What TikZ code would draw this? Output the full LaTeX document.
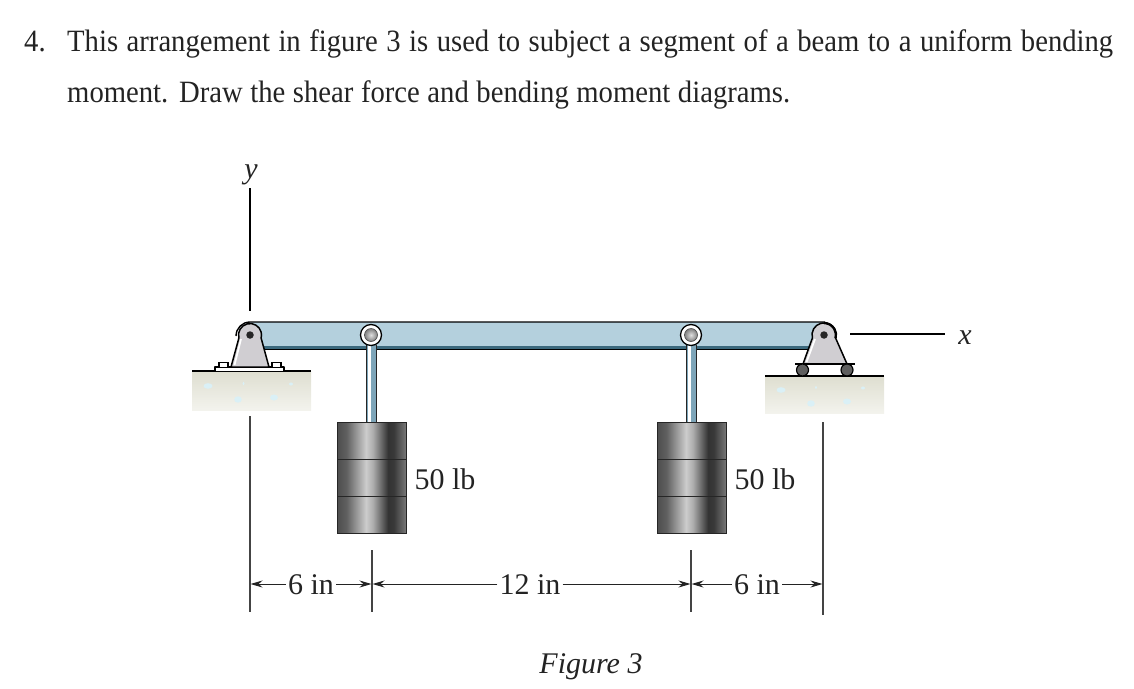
\documentclass[tikz,border=0pt]{standalone}
\usepackage{fontspec}
\setmainfont{Liberation Serif}
\newfontfamily\headfont[FakeStretch=0.925]{Liberation Serif}
\usetikzlibrary{arrows.meta}
\definecolor{beamblue}{RGB}{180,208,221}
\definecolor{beamdark}{RGB}{60,105,125}
\definecolor{rodmid}{RGB}{125,165,185}
\definecolor{steel}{RGB}{208,206,210}
\definecolor{groundtop}{RGB}{222,222,208}
\definecolor{groundbot}{RGB}{243,243,237}
\definecolor{speck}{RGB}{218,240,246}
\definecolor{rollerc}{RGB}{95,95,95}
\definecolor{inkc}{RGB}{35,35,35}
\pgfdeclarehorizontalshading{wshade}{100bp}{
 rgb(0bp)=(.3,.3,.3); rgb(25bp)=(.3,.3,.3); rgb(32bp)=(.38,.38,.38); rgb(46bp)=(.8,.8,.8);
 rgb(51bp)=(.68,.68,.68); rgb(62bp)=(.2,.2,.2); rgb(66bp)=(.22,.22,.22); rgb(75bp)=(.47,.47,.47); rgb(100bp)=(.47,.47,.47)}
\tikzset{
 dimline/.style={draw=inkc!85,line width=1.1pt},
 dimarrow/.style={draw=inkc,line width=1pt,-{Stealth[length=12pt,width=7pt]}},
 axisline/.style={draw=black,line width=1.6pt},
 lbl/.style={inner sep=0pt,font=\fontsize{30}{30}\selectfont,text=inkc},
 head/.style={inner sep=0pt,anchor=base west,font=\headfont\fontsize{31}{31}\selectfont,text=inkc},
 groundblock/.style={top color=groundtop,bottom color=groundbot,draw=none},
 speckle/.style={fill=speck,draw=none},
 bracket/.style={fill=steel,draw=black,line width=1.5pt,line join=round},
 weightpart/.style={shading=wshade,draw=black!85,line width=1pt},
 ring/.style={circle,minimum size=21pt,inner sep=0pt,draw=black,line width=1.3pt,fill=white},
 pinball/.style={circle,minimum size=13pt,inner sep=0pt,inner color=black!12,outer color=black!50,draw=black!70,line width=.6pt},
 pivot/.style={circle,minimum size=7.5pt,inner sep=0pt,fill=black!85,draw=none},
 roller/.style={circle,minimum size=12pt,inner sep=0pt,fill=rollerc,draw=black,line width=1.2pt},
}
\begin{document}
\begin{tikzpicture}[x=1pt,y=-1pt]
\useasboundingbox (0,0) rectangle (1134,688);
% heading
\node[head] (n4) at (24,51) {4.};
\node[head] (l1) at (67,51) {\makebox[1046pt][s]{This arrangement in figure 3 is used to subject a segment of a beam to a uniform bending}};
\node[head] (l2) at (67,102) {\makebox[723pt][s]{moment. Draw the shear force and bending moment diagrams.}};
% ground
\fill[groundblock] (192,371) rectangle (311,410);
\fill[groundblock] (765,376) rectangle (884,413);
\fill[speckle] (208,386) ellipse (4.5 and 2.8);
\fill[speckle] (243.5,383.5) ellipse (1 and 1.8);
\fill[speckle] (291,384) ellipse (2 and 1.5);
\fill[speckle] (238,399.5) ellipse (3.8 and 3.2);
\fill[speckle] (274,397.5) ellipse (4 and 3);
\fill[speckle] (781,390) ellipse (4.5 and 2.8);
\fill[speckle] (816,387.5) ellipse (1 and 1.8);
\fill[speckle] (863,388) ellipse (2 and 1.5);
\fill[speckle] (811,403.5) ellipse (3.8 and 3.2);
\fill[speckle] (847,401.5) ellipse (4 and 3);
\draw[draw=black,line width=1.6pt] (192,371) -- (311,371);
\draw[draw=black,line width=1.6pt] (765,376) -- (884,376);
% beam
\fill[beamblue] (250,322) -- (824,322) -- (824,349) -- (250,349) -- cycle;
\fill[beamdark] (250,345.5) rectangle (816,349);
\draw[black,line width=1.4pt] (236,336) arc[start angle=180,end angle=270,radius=14] -- (825,322);
\draw[black,line width=1.4pt] (258,349.5) -- (812,349.5);
% hanger rods
\foreach \xa in {366.5,686.5}{
 \fill[rodmid] (\xa,345) rectangle (\xa+10,423);
 \fill[black!85] (\xa-.3,345) rectangle (\xa+.9,423);
 \fill[black!85] (\xa+9.3,345) rectangle (\xa+10.5,423);
 \fill[white] (\xa+1.5,345) rectangle (\xa+4,423);
}
\node[ring] (r1) at (371,335) {};
\node[ring] (r2) at (691,335) {};
\node[pinball] (b1) at (371,335) {};
\node[pinball] (b2) at (691,335) {};
% left support
\draw[bracket,fill=white] (215,371) -- (215,367) -- (284,367) -- (284,371);
\draw[black,line width=1.2pt,fill=white] (219,367) -- (219,362.5) -- (228,362.5) -- (228,367);
\draw[black,line width=1.2pt,fill=white] (272,367) -- (272,362.5) -- (281,362.5) -- (281,367);
\draw[bracket] (231,367) -- (238.9,338) arc[start angle=165,end angle=375,radius=11.5] -- (269,367) -- cycle;
\draw[white,line width=1.8pt] (234.5,365) -- (241,339);
\node[pivot] (p1) at (250,335) {};
% right support
\draw[bracket] (803,364) -- (812.4,338) arc[start angle=165,end angle=375,radius=12] -- (847,364) -- cycle;
\draw[white,line width=1.8pt] (806.5,362) -- (815,339);
\draw[black,line width=2.4pt] (824,323) arc[start angle=270,end angle=375,radius=12];
\draw[black,line width=1.2pt] (795,364) -- (855,364);
\node[pivot] (p2) at (824,335) {};
\node[roller] (w1) at (802.5,370) {};
\node[roller] (w2) at (847,370) {};
% weights
\foreach \xa in {337,657}{
 \draw[weightpart] (\xa,422.5) rectangle (\xa+69,459);
 \draw[weightpart] (\xa,459) rectangle (\xa+69,496);
 \draw[weightpart] (\xa,496) rectangle (\xa+69,533);
}
% axes
\coordinate (ytop) at (250,188);
\coordinate (ybot) at (250,311);
\coordinate (xa) at (850,334);
\coordinate (xb) at (945,334);
\draw[axisline] (ytop) -- (ybot);
\draw[axisline] (xa) -- (xb);
\node[lbl,font=\itshape\fontsize{30}{30}\selectfont] (ylab) at (251,175) {y};
\node[lbl,font=\itshape\fontsize{30}{30}\selectfont] (xlab) at (965,338) {x};
% load labels
\node[lbl] (w50a) at (445,479) {50 lb};
\node[lbl] (w50b) at (765,479) {50 lb};
% dimension witness lines
\coordinate (d1t) at (250,416); \coordinate (d1b) at (250,612);
\coordinate (d2t) at (372,550); \coordinate (d2b) at (372,612);
\coordinate (d3t) at (691,550); \coordinate (d3b) at (691,612);
\coordinate (d4t) at (823,422); \coordinate (d4b) at (823,615);
\draw[dimline] (d1t) -- (d1b);
\draw[dimline] (d2t) -- (d2b);
\draw[dimline] (d3t) -- (d3b);
\draw[dimline] (d4t) -- (d4b);
\node[lbl] (t1) at (311,585) {6 in};
\node[lbl] (t2) at (530,585) {12 in};
\node[lbl] (t3) at (757,585) {6 in};
\coordinate (a1) at (250.5,584); \coordinate (a2) at (371.5,584);
\coordinate (a3) at (372.5,584); \coordinate (a4) at (690.5,584);
\coordinate (a5) at (691.5,584); \coordinate (a6) at (822.5,584);
\draw[dimarrow] (t1.west |- a1) ++(-2,0) -- (a1);
\draw[dimarrow] (t1.east |- a2) ++(2,0) -- (a2);
\draw[dimarrow] (t2.west |- a3) ++(-2,0) -- (a3);
\draw[dimarrow] (t2.east |- a4) ++(2,0) -- (a4);
\draw[dimarrow] (t3.west |- a5) ++(-2,0) -- (a5);
\draw[dimarrow] (t3.east |- a6) ++(2,0) -- (a6);
\node[lbl,font=\itshape\fontsize{30}{30}\selectfont] (cap) at (591,667) {Figure 3};
\end{tikzpicture}
\end{document}
